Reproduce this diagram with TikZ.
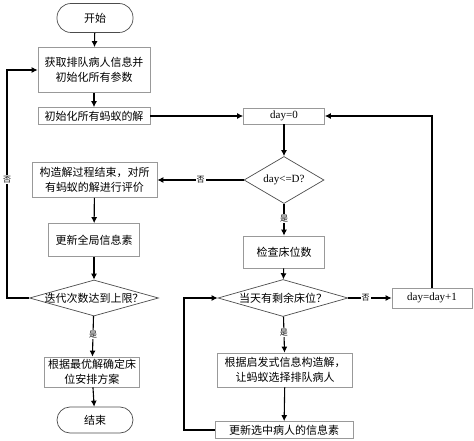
\documentclass[tikz,border=0pt]{standalone}
\usepackage{fontspec}
\setmainfont{Liberation Serif}
\newfontfamily\cjk{Noto Sans CJK SC}
\usetikzlibrary{shapes.geometric,arrows.meta}

\begin{document}
\begin{tikzpicture}[x=1pt,y=-1pt,
	box/.style={draw=gray!80,line width=0.7pt,inner sep=0pt,align=center,font=\cjk\fontsize{11}{15}\selectfont},
	term/.style={box,draw=black!70,rounded corners=14pt,minimum width=76pt,minimum height=29pt},
	dia/.style={draw=black!70,line width=0.7pt,diamond,inner sep=0pt},
	lab/.style={fill=white,inner sep=1pt,font=\cjk\fontsize{8}{8}\selectfont},
	arr/.style={-{Latex[length=6pt,width=6pt]},line width=1.1pt}]
		\useasboundingbox (0,0) rectangle (474,441);
		% left column
		\node[term] (start) at (95,18) {开始};
		\node[box,minimum width=112pt,minimum height=45pt] (init) at (94,70) {获取排队病人信息并\\初始化所有参数};
		\node[box,minimum width=112pt,minimum height=17pt] (antinit) at (94,116) {初始化所有蚂蚁的解};
		\node[box,minimum width=125pt,minimum height=35pt] (eval) at (94.5,180) {构造解过程结束，对所\\有蚂蚁的解进行评价};
		\node[box,minimum width=91pt,minimum height=33pt] (glob) at (94,240) {更新全局信息素};
		\node[dia,minimum width=129pt,minimum height=36pt,label={[font=\cjk\fontsize{11}{13}\selectfont]center:迭代次数达到上限？}] (iter) at (94,298) {};
		\node[box,minimum width=95pt,minimum height=30pt] (best) at (92,372) {根据最优解确定床\\位安排方案};
		\node[term,minimum height=26pt,rounded corners=13pt] (end) at (95,420) {结束};
		% right column
		\node[box,minimum width=81pt,minimum height=16pt,font=\fontsize{11}{13}\selectfont] (day0) at (284,116) {day=0};
		\node[dia,minimum width=80pt,minimum height=47pt,label={[font=\fontsize{11}{13}\selectfont]center:day<=D?}] (dayok) at (284,180) {};
		\node[box,minimum width=81pt,minimum height=32pt] (check) at (284,252) {检查床位数};
		\node[dia,minimum width=130pt,minimum height=37pt,label={[font=\cjk\fontsize{11}{13}\selectfont]center:当天有剩余床位？}] (bed) at (283,298) {};
		\node[box,minimum width=80pt,minimum height=20pt,font=\fontsize{11}{13}\selectfont] (next) at (432,298) {day=day+1};
		\node[box,minimum width=135pt,minimum height=34pt] (build) at (285,370) {根据启发式信息构造解，\\让蚂蚁选择排队病人};
		\node[box,minimum width=138pt,minimum height=17pt] (upd) at (284,430) {更新选中病人的信息素};
		\coordinate (lt) at (7,298);
		\coordinate (rt) at (184,430);
		% connectors
		\draw[arr] (start)--(init);
		\draw[arr] (init)--(antinit);
		\draw[arr] (antinit)--(day0);
		\draw[arr] (day0)--(dayok);
		\draw[arr] (dayok)--node[lab]{否}(eval);
		\draw[arr] (eval)--(glob);
		\draw[arr] (glob)--(iter);
		\draw[arr] (iter)--node[lab,pos=0.45]{是}(best);
		\draw[arr] (best)--(end);
		\draw[arr] (iter.west)--(lt)|-node[lab,pos=0.26]{否}(init.west);
		\draw[arr] (dayok)--node[lab,pos=0.45]{是}(check);
		\draw[arr] (check)--(bed);
		\draw[arr] (bed)--node[lab,pos=0.4]{否}(next);
		\draw[arr] (next)|-(day0);
		\draw[arr] (bed)--node[lab,pos=0.45]{是}(build);
		\draw[arr] (build)--(upd);
		\draw[arr] (upd.west)--(rt)|-(bed.west);
\end{tikzpicture}
\end{document}
